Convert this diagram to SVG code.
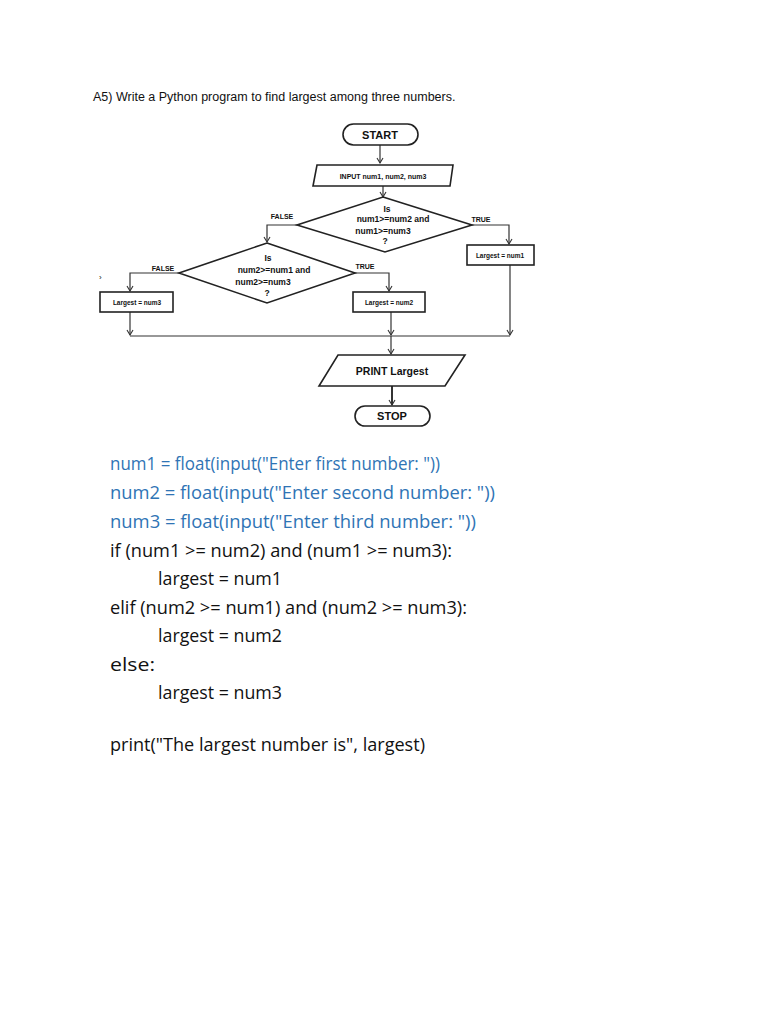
<svg xmlns="http://www.w3.org/2000/svg" width="768" height="1024" viewBox="0 0 768 1024">
<style>
.s{fill:#fff;stroke:#222;stroke-width:1.6}
.c{fill:none;stroke:#333;stroke-width:1.2}
.t{font-family:"Liberation Sans",Arial,sans-serif;fill:#111}
.b{font-weight:bold}
.code{font-family:"Open Sans","Liberation Sans",sans-serif;font-size:18.5px;fill:#111}
.blue{fill:#2f74b5}
</style>
<defs><marker id="a" markerWidth="8" markerHeight="8" refX="6" refY="4" orient="auto" markerUnits="userSpaceOnUse"><path d="M1,1 L6,4 L1,7" fill="none" stroke="#333" stroke-width="1.1"/></marker></defs>
<rect width="768" height="1024" fill="#fff"/>
<text class="t" x="93" y="101" font-size="12.5">A5) Write  a Python program to find  largest  among  three  numbers.</text>
<g id="connectors">
<path class="c" d="M380,145 V163" marker-end="url(#a)"/>
<path class="c" d="M383,186 V197" marker-end="url(#a)"/>
<path class="c" d="M297,225 H267 V242" marker-end="url(#a)"/>
<path class="c" d="M472,225 H509 V244" marker-end="url(#a)"/>
<path class="c" d="M179,273 H130 V291" marker-end="url(#a)"/>
<path class="c" d="M355,273 H389 V291" marker-end="url(#a)"/>
<path class="c" d="M130,312 V335" marker-end="url(#a)"/>
<path class="c" d="M391,312 V335" marker-end="url(#a)"/>
<path class="c" d="M510,265 V335" marker-end="url(#a)"/>
<path class="c" d="M130,336 H510"/>
<path class="c" d="M391,336 V354" marker-end="url(#a)"/>
<path class="c" style="stroke-width:2" d="M392,386 V405" marker-end="url(#a)"/>
<text class="t b" x="282" y="219" font-size="7" text-anchor="middle">FALSE</text>
<text class="t b" x="481" y="222" font-size="7" text-anchor="middle">TRUE</text>
<text class="t b" x="163" y="271" font-size="7" text-anchor="middle">FALSE</text>
<text class="t b" x="365" y="269" font-size="7" text-anchor="middle">TRUE</text>
<text class="t" x="99" y="280" font-size="8" fill="#777">›</text>
</g>
<g id="start"><rect class="s" x="343" y="124" width="75" height="21" rx="10.5"/><text class="t b" x="380" y="139" font-size="11" text-anchor="middle">START</text></g>
<g id="input"><polygon class="s" points="317,165 453,165 450,186 313,186"/><text class="t b" x="383" y="179" font-size="7" text-anchor="middle">INPUT num1, num2, num3</text></g>
<g id="d1"><polygon class="s" points="383,197 472,225 385,252 297,225"/>
<text class="t b" font-size="8.5" text-anchor="middle"><tspan x="387" y="212">Is</tspan><tspan x="393" y="222">num1&gt;=num2 and</tspan><tspan x="383" y="234">num1&gt;=num3</tspan><tspan x="385" y="244">?</tspan></text></g>
<g id="box1"><rect class="s" x="467" y="245" width="67" height="20"/><text class="t b" x="500" y="258" font-size="6.5" text-anchor="middle">Largest = num1</text></g>
<g id="d2"><polygon class="s" points="267,243 355,273 267,303 179,273"/>
<text class="t b" font-size="8.5" text-anchor="middle"><tspan x="268" y="261">Is</tspan><tspan x="274" y="273">num2&gt;=num1 and</tspan><tspan x="263" y="285">num2&gt;=num3</tspan><tspan x="267" y="296">?</tspan></text></g>
<g id="box3"><rect class="s" x="100" y="292" width="73" height="20"/><text class="t b" x="137" y="305" font-size="6.5" text-anchor="middle">Largest = num3</text></g>
<g id="box2"><rect class="s" x="353" y="292" width="72" height="20"/><text class="t b" x="389" y="305" font-size="6.5" text-anchor="middle">Largest = num2</text></g>
<g id="print"><polygon class="s" points="338,355 465,355 445,386 319,386"/><text class="t b" x="392" y="375" font-size="10.5" text-anchor="middle">PRINT Largest</text></g>
<g id="stop"><rect class="s" x="355" y="406" width="75" height="20" rx="10"/><text class="t b" x="392" y="420" font-size="11" text-anchor="middle">STOP</text></g>
<g id="code">
<text class="code blue" x="110" y="470" textLength="330" lengthAdjust="spacingAndGlyphs">num1 = float(input("Enter first number: "))</text>
<text class="code blue" x="110" y="499" textLength="385" lengthAdjust="spacingAndGlyphs">num2 = float(input("Enter second number: "))</text>
<text class="code blue" x="110" y="528" textLength="366" lengthAdjust="spacingAndGlyphs">num3 = float(input("Enter third number: "))</text>
<text class="code" x="110" y="557" textLength="342" lengthAdjust="spacingAndGlyphs">if (num1 &gt;= num2) and (num1 &gt;= num3):</text>
<text class="code" x="158" y="585" textLength="124" lengthAdjust="spacingAndGlyphs">largest = num1</text>
<text class="code" x="110" y="614" textLength="357" lengthAdjust="spacingAndGlyphs">elif (num2 &gt;= num1) and (num2 &gt;= num3):</text>
<text class="code" x="158" y="642" textLength="124" lengthAdjust="spacingAndGlyphs">largest = num2</text>
<text class="code" x="110" y="671" textLength="45" lengthAdjust="spacingAndGlyphs">else:</text>
<text class="code" x="158" y="699" textLength="124" lengthAdjust="spacingAndGlyphs">largest = num3</text>
<text class="code" x="110" y="751" textLength="315" lengthAdjust="spacingAndGlyphs">print("The largest number is", largest)</text>
</g>
</svg>
